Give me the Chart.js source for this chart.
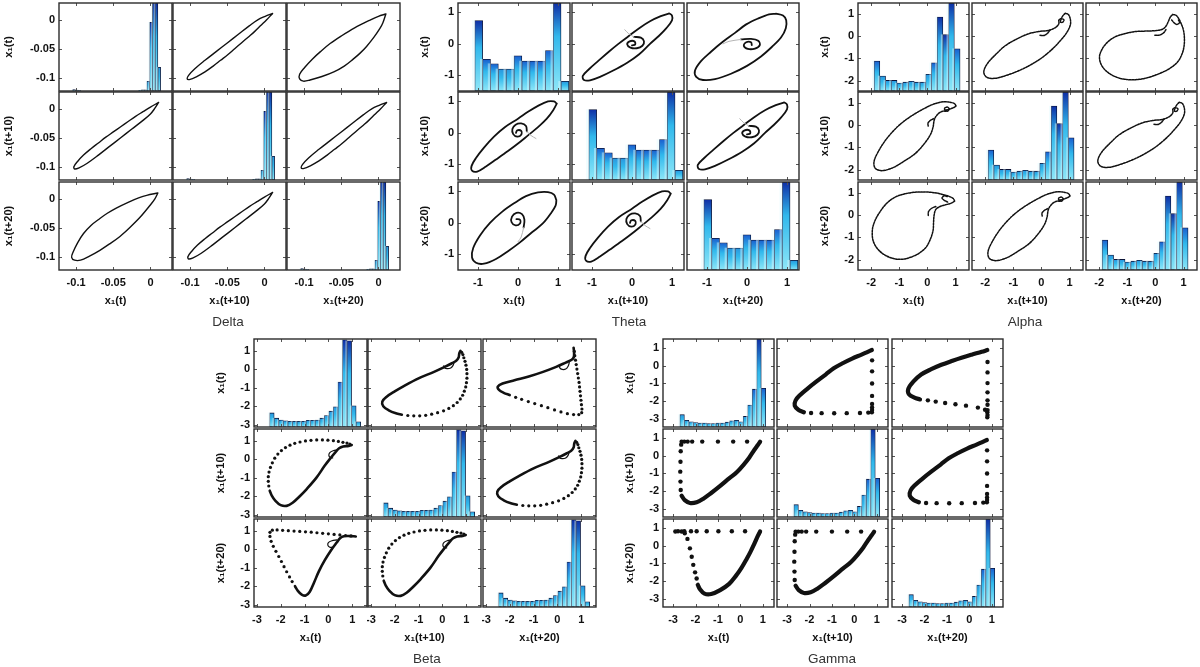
<!DOCTYPE html>
<html><head><meta charset="utf-8">
<script src="https://cdn.jsdelivr.net/npm/chart.js@4.4.1/dist/chart.umd.min.js"></script>
<style>
html,body{margin:0;padding:0;background:#fff;}
#root{position:relative;width:1200px;height:667px;overflow:hidden;background:#fff;}
.panel{position:absolute;}
.glabel{position:absolute;font:13.5px 'Liberation Sans',Arial,sans-serif;color:#333;transform:translate(-50%,-50%);white-space:nowrap;}
</style></head><body><div id="root"></div>
<script>
// ---------------- DATA ----------------
const GROUP_NAMES = ['Delta','Theta','Alpha','Beta','Gamma'];
const AXIS_TITLES = ['x\u2081(t)','x\u2081(t+10)','x\u2081(t+20)'];

// axis limits and ticks
const deltaRange = [-0.123, 0.029];
const thetaRange = [-1.5, 1.3];
const alphaRange = [-2.47, 1.48];
const betaRange  = [-3.12, 1.62];
const gammaRange = [-3.45, 1.5];
const deltaTicks = [-0.1, -0.05, 0];
const deltaTickLabels = ['-0.1', '-0.05', '0'];
const thetaTicks = [-1, 0, 1];
const thetaTickLabels = ['-1', '0', '1'];
const alphaTicks = [-2, -1, 0, 1];
const alphaTickLabels = ['-2', '-1', '0', '1'];
const betaTicks = [-3, -2, -1, 0, 1];
const betaTickLabels = ['-3', '-2', '-1', '0', '1'];
const gammaTicks = [-3, -2, -1, 0, 1];
const gammaTickLabels = ['-3', '-2', '-1', '0', '1'];

// histograms (bin centres, relative heights)
const deltaBinCenters = [-0.1047, -0.1010, -0.0973, -0.0159, -0.0122, -0.0085, -0.0048, -0.0011, 0.0026, 0.0063, 0.0100];
const deltaBinHeights = [0.015, 0.01, 0.006, 0.008, 0.012, 0.012, 0.11, 0.78, 1.0, 1.0, 0.27];
const thetaBinCenters = [-1.08, -0.884, -0.688, -0.492, -0.296, -0.1, 0.096, 0.292, 0.488, 0.684, 0.88, 1.076];
const thetaBinHeights = [0.80, 0.36, 0.31, 0.25, 0.25, 0.40, 0.34, 0.34, 0.34, 0.46, 1.0, 0.11];
const alphaBinCenters = [-1.898, -1.694, -1.49, -1.286, -1.082, -0.878, -0.674, -0.47, -0.266, -0.062, 0.142, 0.346, 0.55, 0.754, 0.958];
const alphaBinHeights = [0.34, 0.17, 0.12, 0.12, 0.09, 0.10, 0.11, 0.10, 0.10, 0.19, 0.32, 0.84, 0.64, 1.0, 0.48];
const betaBinCenters = [-2.465, -2.274, -2.083, -1.892, -1.701, -1.51, -1.319, -1.128, -0.937, -0.746, -0.555, -0.364, -0.173, 0.018, 0.209, 0.4, 0.591, 0.782, 0.973, 1.164];
const betaBinHeights = [0.16, 0.10, 0.08, 0.07, 0.065, 0.065, 0.065, 0.065, 0.075, 0.075, 0.08, 0.10, 0.13, 0.18, 0.23, 0.51, 0.99, 0.98, 0.24, 0.06];
const gammaBinCenters = [-2.699, -2.497, -2.296, -2.094, -1.892, -1.691, -1.489, -1.288, -1.086, -0.884, -0.683, -0.481, -0.28, -0.078, 0.124, 0.325, 0.527, 0.729, 0.930];
const gammaBinHeights = [0.14, 0.075, 0.06, 0.05, 0.045, 0.045, 0.04, 0.04, 0.045, 0.045, 0.055, 0.07, 0.075, 0.06, 0.12, 0.25, 0.43, 1.0, 0.44];

// delay embeddings: [x(t), x(t+lag)]
const deltaLag10 = [[0.011,0.011],[0.0,0.003],[-0.01,-0.005],[-0.02,-0.013],[-0.03,-0.022],[-0.04,-0.031],[-0.05,-0.040],[-0.06,-0.049],[-0.07,-0.059],[-0.08,-0.069],[-0.09,-0.080],[-0.098,-0.091],[-0.103,-0.100],[-0.102,-0.104],[-0.096,-0.102],[-0.085,-0.094],[-0.07,-0.080],[-0.055,-0.065],[-0.04,-0.050],[-0.025,-0.035],[-0.01,-0.020],[0.0,-0.009],[0.006,0.001],[0.011,0.011]];
const deltaLag20 = [[0.010,0.010],[-0.005,0.006],[-0.015,0.002],[-0.03,-0.006],[-0.046,-0.016],[-0.058,-0.025],[-0.068,-0.034],[-0.080,-0.046],[-0.090,-0.060],[-0.098,-0.076],[-0.104,-0.092],[-0.106,-0.101],[-0.102,-0.106],[-0.094,-0.106],[-0.082,-0.099],[-0.068,-0.089],[-0.055,-0.078],[-0.041,-0.065],[-0.028,-0.050],[-0.014,-0.032],[-0.001,-0.012],[0.006,0.0],[0.010,0.010]];

const thetaLag10 = [[0.97,0.93],[0.9,1.0],[0.75,1.0],[0.5,0.86],[0.25,0.67],[0.0,0.45],[-0.33,0.18],[-0.6,-0.12],[-0.85,-0.47],[-1.05,-0.8],[-1.16,-1.05],[-1.15,-1.2],[-1.02,-1.23],[-0.8,-1.07],[-0.55,-0.85],[-0.25,-0.58],[0.0,-0.34],[0.25,-0.08],[0.5,0.18],[0.72,0.45],[0.88,0.72],[0.97,0.93]];
const thetaSpiral10 = [[0.22,0.05],[0.2,0.22],[0.08,0.3],[-0.06,0.26],[-0.14,0.12],[-0.12,-0.04],[-0.02,-0.12],[0.08,-0.06],[0.08,0.06],[-0.02,0.08],[-0.05,0.0]];
const thetaTrail10 = [[0.22,0.05],[0.32,-0.08],[0.45,-0.18]];
const thetaLag20 = [[0.96,0.72],[0.9,0.9],[0.75,0.98],[0.5,0.97],[0.2,0.85],[-0.1,0.62],[-0.4,0.35],[-0.7,0.0],[-0.95,-0.4],[-1.12,-0.8],[-1.15,-1.1],[-1.05,-1.27],[-0.85,-1.3],[-0.55,-1.15],[-0.25,-0.9],[0.05,-0.62],[0.35,-0.3],[0.62,-0.02],[0.82,0.3],[0.94,0.55],[0.96,0.72]];
const thetaSpiral20 = [[0.14,-0.15],[0.16,0.1],[0.1,0.28],[-0.04,0.32],[-0.15,0.2],[-0.16,0.02],[-0.06,-0.08],[0.05,-0.02],[0.05,0.1],[-0.04,0.12]];
const thetaTrail20 = [[0.0,-0.6],[0.08,-0.45],[0.14,-0.15]];

const alphaLag10 = [[1.02,0.85],[0.96,0.96],[0.75,1.03],[0.5,1.03],[0.15,0.9],[-0.2,0.68],[-0.55,0.42],[-0.9,0.1],[-1.2,-0.25],[-1.5,-0.7],[-1.75,-1.2],[-1.9,-1.65],[-1.85,-1.95],[-1.6,-2.05],[-1.2,-1.9],[-0.8,-1.6],[-0.45,-1.3],[-0.15,-0.9],[0.1,-0.45],[0.2,-0.1],[0.25,0.25],[0.38,0.5],[0.55,0.62],[0.7,0.62],[0.78,0.7],[0.72,0.8],[0.62,0.76],[0.62,0.68],[0.75,0.7],[0.9,0.76],[1.02,0.85]];
const alphaTail10 = [[0.03,-0.05],[0.02,0.08],[0.1,0.2],[0.25,0.3]];
const alphaLag20 = [[0.97,0.62],[0.92,0.74],[0.8,0.82],[0.6,0.9],[0.3,0.99],[-0.05,1.03],[-0.45,1.02],[-0.8,0.95],[-1.15,0.8],[-1.45,0.52],[-1.7,0.12],[-1.88,-0.3],[-1.96,-0.7],[-1.92,-1.2],[-1.7,-1.62],[-1.35,-1.9],[-0.95,-1.99],[-0.6,-1.9],[-0.3,-1.72],[-0.05,-1.45],[0.1,-1.1],[0.2,-0.7],[0.22,-0.3],[0.24,0.0],[0.3,0.25],[0.45,0.38],[0.65,0.46],[0.85,0.53],[0.97,0.62]];
const alphaHook20 = [[0.72,0.58],[0.6,0.66],[0.52,0.76],[0.6,0.86],[0.72,0.82]];
const alphaTail20 = [[0.03,-0.02],[0.04,0.15],[0.15,0.3],[0.3,0.38]];

const betaLag10Line = [[0.98,0.76],[0.85,0.71],[0.62,0.68],[0.45,0.58],[0.3,0.38],[0.12,0.1],[-0.15,-0.35],[-0.5,-1.0],[-0.9,-1.6],[-1.2,-2.0],[-1.5,-2.35],[-1.75,-2.52],[-2.0,-2.48],[-2.22,-2.25],[-2.38,-1.95],[-2.46,-1.7]];
const betaLag10Dots = [[-2.5,-1.45],[-2.52,-1.2],[-2.52,-0.95],[-2.49,-0.7],[-2.43,-0.45],[-2.35,-0.2],[-2.25,0.05],[-2.12,0.27],[-1.97,0.46],[-1.8,0.62],[-1.61,0.75],[-1.41,0.85],[-1.19,0.92],[-0.96,0.98],[-0.73,1.01],[-0.49,1.03],[-0.25,1.03],[-0.02,1.02],[0.21,0.99],[0.42,0.95],[0.61,0.9],[0.78,0.86],[0.9,0.81]];
const betaHook10 = [[0.38,0.5],[0.2,0.45],[0.06,0.35],[0.02,0.2],[0.08,0.08],[0.18,0.06]];
const betaLag20Line = [[1.15,0.68],[0.9,0.7],[0.65,0.69],[0.5,0.6],[0.35,0.35],[0.12,-0.05],[-0.15,-0.6],[-0.4,-1.2],[-0.6,-1.8],[-0.78,-2.3],[-0.95,-2.5],[-1.12,-2.45],[-1.28,-2.25],[-1.4,-2.0]];
const betaLag20Dots = [[-1.52,-1.75],[-1.63,-1.5],[-1.75,-1.22],[-1.86,-0.95],[-1.97,-0.67],[-2.08,-0.4],[-2.2,-0.12],[-2.31,0.15],[-2.4,0.42],[-2.45,0.68],[-2.45,0.9],[-2.35,1.02],[-2.15,1.03],[-1.92,1.01],[-1.68,0.99],[-1.44,0.97],[-1.2,0.95],[-0.96,0.93],[-0.72,0.91],[-0.48,0.88],[-0.24,0.85],[0.0,0.82],[0.24,0.79],[0.48,0.76],[0.72,0.73],[0.95,0.71]];
const betaHook20 = [[0.35,0.5],[0.15,0.45],[0.0,0.35],[-0.02,0.2],[0.06,0.1],[0.16,0.1]];

const gammaLag10Line = [[0.88,0.78],[0.78,0.6],[0.62,0.32],[0.4,-0.1],[0.15,-0.5],[-0.15,-0.92],[-0.5,-1.28],[-0.9,-1.7],[-1.3,-2.1],[-1.65,-2.42],[-1.95,-2.62],[-2.25,-2.66],[-2.48,-2.5],[-2.62,-2.25]];
const gammaLag10Dots = [[-2.66,-1.93],[-2.67,-1.46],[-2.68,-0.9],[-2.67,-0.34],[-2.66,0.25],[-2.64,0.62],[-2.62,0.78],[-2.5,0.79],[-2.35,0.79],[-2.15,0.79],[-1.7,0.79],[-1.0,0.79],[-0.32,0.79],[0.3,0.79]];
const gammaLag20Line = [[0.88,0.8],[0.78,0.55],[0.62,0.1],[0.45,-0.35],[0.28,-0.75],[0.05,-1.25],[-0.2,-1.7],[-0.5,-2.15],[-0.9,-2.5],[-1.3,-2.72],[-1.6,-2.7],[-1.8,-2.45],[-1.9,-2.2]];
const gammaLag20Dots = [[-1.95,-1.85],[-2.02,-1.5],[-2.1,-1.08],[-2.17,-0.62],[-2.25,-0.15],[-2.36,0.38],[-2.48,0.7],[-2.62,0.8],[-2.78,0.81],[-2.9,0.8],[-2.5,0.81],[-2.2,0.81],[-1.95,0.81],[-1.5,0.81],[-0.98,0.81],[-0.38,0.81],[0.21,0.81]];

// ---------------- CONFIG BUILT FROM DATA ----------------
const SERIES = {
  Delta: {range: deltaRange, ticks: deltaTicks, tickLabels: deltaTickLabels, binX: deltaBinCenters, binY: deltaBinHeights,
    lag10: [{kind:'line', pts: deltaLag10}], lag20: [{kind:'line', pts: deltaLag20}]},
  Theta: {range: thetaRange, ticks: thetaTicks, tickLabels: thetaTickLabels, binX: thetaBinCenters, binY: thetaBinHeights,
    lag10: [{kind:'trail', pts: thetaTrail10}, {kind:'line', pts: thetaLag10}, {kind:'line', pts: thetaSpiral10}],
    lag20: [{kind:'trail', pts: thetaTrail20}, {kind:'line', pts: thetaLag20}, {kind:'line', pts: thetaSpiral20}]},
  Alpha: {range: alphaRange, ticks: alphaTicks, tickLabels: alphaTickLabels, binX: alphaBinCenters, binY: alphaBinHeights,
    lag10: [{kind:'line', pts: alphaLag10}, {kind:'line', pts: alphaTail10}],
    lag20: [{kind:'line', pts: alphaLag20}, {kind:'line', pts: alphaHook20}, {kind:'line', pts: alphaTail20}]},
  Beta: {range: betaRange, ticks: betaTicks, tickLabels: betaTickLabels, binX: betaBinCenters, binY: betaBinHeights,
    lag10: [{kind:'line', pts: betaLag10Line}, {kind:'dots', pts: betaLag10Dots}, {kind:'hook', pts: betaHook10}],
    lag20: [{kind:'line', pts: betaLag20Line}, {kind:'dots', pts: betaLag20Dots}, {kind:'hook', pts: betaHook20}]},
  Gamma: {range: gammaRange, ticks: gammaTicks, tickLabels: gammaTickLabels, binX: gammaBinCenters, binY: gammaBinHeights,
    lag10: [{kind:'line', pts: gammaLag10Line}, {kind:'dots', pts: gammaLag10Dots}],
    lag20: [{kind:'line', pts: gammaLag20Line}, {kind:'dots', pts: gammaLag20Dots}]}
};

// layout (page pixels of plot areas) and styles
const LAYOUT = {
  Delta: {cols:[59,173,287], rows:[3,92,182], w:113, h:88, padL:57, label:[228,321]},
  Theta: {cols:[458,572,687], rows:[3,92,182], w:112, h:88, padL:40, label:[629,321]},
  Alpha: {cols:[858,972,1086], rows:[3,92,182], w:111, h:88, padL:40, label:[1025,321]},
  Beta:  {cols:[254,368,483], rows:[339,429,519], w:113, h:88, padL:40, label:[427,658]},
  Gamma: {cols:[663,777,892], rows:[339,429,519], w:111, h:88, padL:40, label:[832,658]}
};
const STYLE = {
  Delta: {line:{w:1.4}},
  Theta: {line:{w:1.8}, trail:{w:1.0, color:'#b5b5b5'}},
  Alpha: {line:{w:1.5, dash:[1.8,1.1]}},
  Beta:  {line:{w:2.6}, dots:{r:1.6}, hook:{w:1.2}},
  Gamma: {line:{w:4.2}, dots:{r:2.2}}
};
const X_AXIS_H = 38;
const TICK_FONT = {family:"'Liberation Sans', Arial, sans-serif", size:11, weight:'bold'};
const TITLE_FONT = {family:"'Liberation Sans', Arial, sans-serif", size:11, weight:'bold'};

Chart.defaults.font.family = "'Liberation Sans', Arial, sans-serif";
Chart.defaults.color = '#111';

const framePlugin = {
  id: 'frame',
  afterDatasetsDraw(chart, args, opts) {
    const {ctx, chartArea: a} = chart;
    const xs = chart.scales.x, ys = chart.scales.y;
    ctx.save();
    ctx.strokeStyle = '#555';
    ctx.lineWidth = 1;
    ctx.beginPath();
    opts.ticks.forEach(v => {
      const px = Math.round(xs.getPixelForValue(v)) + 0.5;
      ctx.moveTo(px, a.bottom); ctx.lineTo(px, a.bottom - 3);
      ctx.moveTo(px, a.top); ctx.lineTo(px, a.top + 3);
      const py = Math.round(ys.getPixelForValue(v)) + 0.5;
      ctx.moveTo(a.left, py); ctx.lineTo(a.left + 3, py);
      ctx.moveTo(a.right, py); ctx.lineTo(a.right - 3, py);
    });
    ctx.stroke();
    ctx.strokeStyle = '#2b2b2b';
    ctx.lineWidth = 1.4;
    ctx.strokeRect(a.left, a.top, a.width, a.height);
    ctx.restore();
  }
};

function barFill(c) {
  const chart = c.chart, a = chart.chartArea;
  if (!a || !c.raw) return '#35b5ea';
  const v = c.raw.y;
  const top = chart.scales.yh.getPixelForValue(v), bot = a.bottom;
  const g = chart.ctx.createLinearGradient(0, top, 0, bot);
  const topColor = v > 0.55 ? '#0e2fa6' : (v > 0.28 ? '#1a5fcf' : '#2a95de');
  g.addColorStop(0, topColor);
  g.addColorStop(0.38, '#30b8ec');
  g.addColorStop(1, '#8ee7f8');
  return g;
}

function zeroPad(s) { s.paddingLeft = 0; s.paddingRight = 0; s.paddingTop = 0; s.paddingBottom = 0; }

function lineDataset(part, st, transpose) {
  const data = part.pts.map(p => transpose ? {x: p[1], y: p[0]} : {x: p[0], y: p[1]});
  if (part.kind === 'dots') {
    return {type:'scatter', data, showLine:false, pointRadius: st.r, pointBackgroundColor:'#111', pointBorderColor:'#111', pointBorderWidth:0, xAxisID:'x', yAxisID:'y'};
  }
  return {type:'scatter', data, showLine:true, pointRadius:0, borderColor: st.color || '#111', borderWidth: st.w,
    borderDash: st.dash || [], tension:0.35, fill:false, borderCapStyle:'round', borderJoinStyle:'round', xAxisID:'x', yAxisID:'y'};
}

const root = document.getElementById('root');

function buildPanel(name, r, c) {
  const S = SERIES[name], L = LAYOUT[name], ST = STYLE[name];
  const isLeft = c === 0, isBottom = r === 2;
  const padL = isLeft ? L.padL : 0, padB = isBottom ? X_AXIS_H : 0;
  const div = document.createElement('div');
  div.className = 'panel';
  div.style.left = (L.cols[c] - padL - 1) + 'px';
  div.style.top = (L.rows[r] - 1) + 'px';
  div.style.width = (L.w + padL + 2) + 'px';
  div.style.height = (L.h + padB + 2) + 'px';
  const cv = document.createElement('canvas');
  div.appendChild(cv);
  root.appendChild(div);

  const tickLabel = v => { const i = S.ticks.indexOf(v); return i < 0 ? '' : S.tickLabels[i]; };
  const setTicks = s => { s.ticks = S.ticks.map(v => ({value: v})); };

  const datasets = [];
  if (r === c) {
    const bars = S.binX.map((x, i) => ({x, y: S.binY[i]}));
    const thick = L.w * (S.binX[1] - S.binX[0]) / (S.range[1] - S.range[0]);
    datasets.push({type:'bar', data: bars, xAxisID:'x2', yAxisID:'yh', barThickness: Math.max(1, thick * 0.3),
      backgroundColor:'rgba(225,250,255,0.45)', borderWidth:0});
    datasets.push({type:'bar', data: bars, xAxisID:'x', yAxisID:'yh', barThickness: thick,
      backgroundColor: barFill, borderColor:'#0a1236', borderWidth:0.8, borderSkipped:false});
  } else {
    const parts = Math.abs(r - c) === 1 ? S.lag10 : S.lag20;
    const transpose = r < c;
    parts.forEach(p => datasets.push(lineDataset(p, ST[p.kind], transpose)));
  }

  const scales = {
    x: {type:'linear', position:'bottom', min:S.range[0], max:S.range[1], display:isBottom, offset:false,
      grid:{display:false, drawTicks:false, offset:false}, border:{display:false},
      afterBuildTicks: setTicks,
      afterFit: s => { s.height = padB; zeroPad(s); },
      ticks:{padding:6, font:TICK_FONT, color:'#111', autoSkip:false, maxRotation:0, callback: v => tickLabel(v)},
      title:{display:isBottom, text:AXIS_TITLES[c], padding:0, font:TITLE_FONT, color:'#111'}},
    y: {type:'linear', position:'left', min:S.range[0], max:S.range[1], display:isLeft, offset:false,
      grid:{display:false, drawTicks:false, offset:false}, border:{display:false},
      afterBuildTicks: setTicks,
      afterFit: s => { s.width = padL; zeroPad(s); },
      ticks:{padding:4, font:TICK_FONT, color:'#111', autoSkip:false, callback: v => tickLabel(v)},
      title:{display:isLeft, text:AXIS_TITLES[r], padding:0, font:TITLE_FONT, color:'#111'}}
  };
  if (r === c) {
    scales.yh = {type:'linear', position:'left', min:0, max:1, display:false, offset:false};
    scales.x2 = {type:'linear', position:'bottom', min:S.range[0], max:S.range[1], display:false, offset:false, grid:{offset:false}};
  }

  new Chart(cv, {
    type: 'scatter',
    data: {datasets},
    options: {
      responsive:true, maintainAspectRatio:false, animation:false, events:[],
      layout:{autoPadding:false, padding:{left:1, right:1, top:1, bottom:1}},
      scales,
      plugins:{legend:{display:false}, tooltip:{enabled:false}, frame:{ticks:S.ticks}}
    },
    plugins:[framePlugin]
  });
}

GROUP_NAMES.forEach(name => {
  for (let r = 0; r < 3; r++) for (let c = 0; c < 3; c++) buildPanel(name, r, c);
  const lab = document.createElement('div');
  lab.className = 'glabel';
  lab.textContent = name;
  lab.style.left = LAYOUT[name].label[0] + 'px';
  lab.style.top = LAYOUT[name].label[1] + 'px';
  root.appendChild(lab);
});
</script></body></html>
